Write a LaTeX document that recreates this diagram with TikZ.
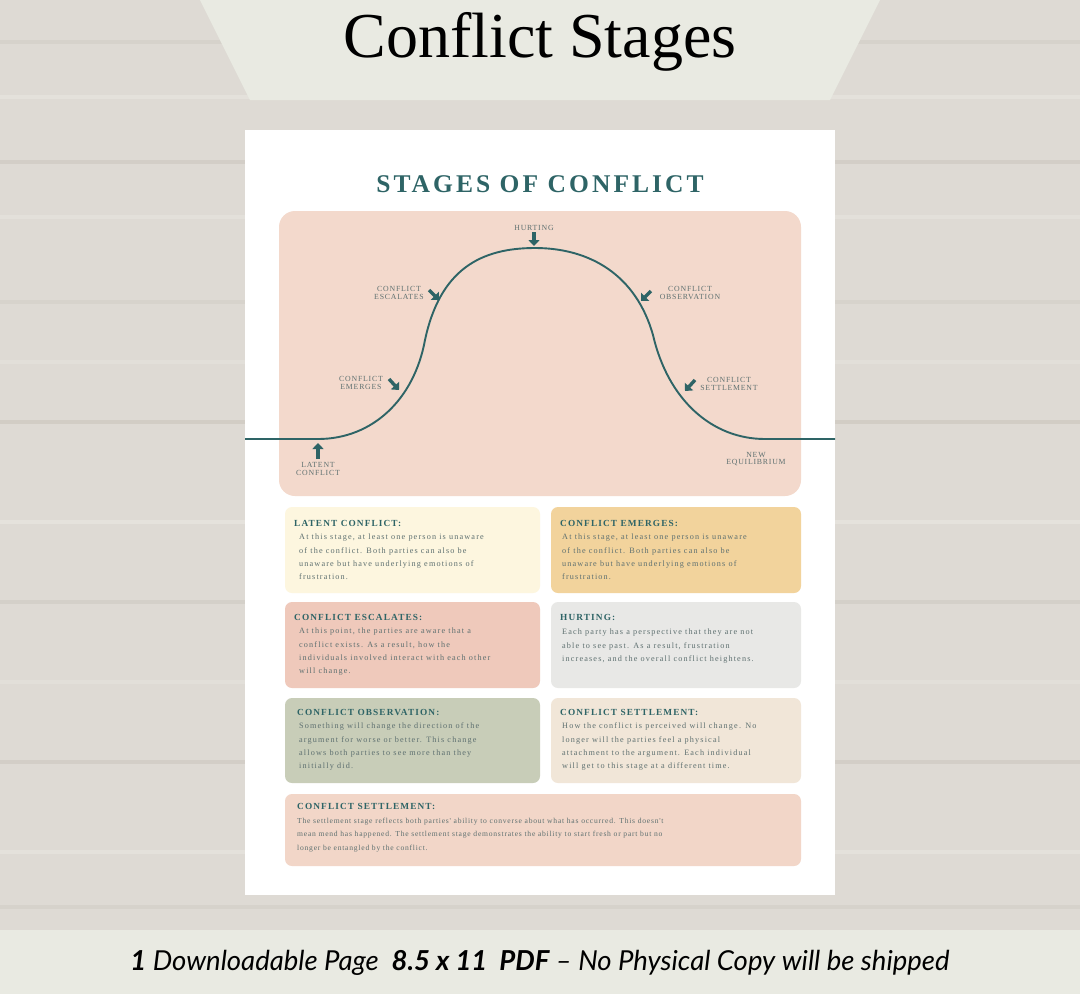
\documentclass[tikz,border=0pt]{standalone}
\usepackage{fontspec}
\setmainfont{Liberation Serif}
\newfontfamily\bodyf[LetterSpace=14]{Liberation Serif}
\newfontfamily\labf[LetterSpace=10]{Liberation Serif}
\newfontfamily\headf[LetterSpace=12]{Liberation Serif}
\newfontfamily\titlef[LetterSpace=12]{Liberation Serif}
\newfontfamily\footf{Lato}
\usetikzlibrary{arrows.meta}
\definecolor{teal}{HTML}{2E6466}
\definecolor{lab}{HTML}{5E7070}
\definecolor{wood}{HTML}{DEDAD4}
\definecolor{band}{HTML}{E9EAE2}
\begin{document}
\begin{tikzpicture}[x=1pt,y=-1pt,
 lbl/.style={font=\labf\fontsize{7.8}{7.6}\selectfont,text=lab,align=center,inner sep=0},
 arr/.style={-{Triangle[length=6pt,width=11pt]},line width=3.4pt,teal},
 box/.style={rounded corners=7pt},
 bhead/.style={font=\headf\bfseries\fontsize{9.3}{10}\selectfont,text=teal,anchor=west,inner sep=0},
 btext/.style={font=\bodyf\fontsize{8.2}{13.3}\selectfont,text=lab,anchor=north west,align=left,inner sep=0}]
\useasboundingbox (0,0) rectangle (1080,994);
\fill[wood] (0,0) rectangle (1080,994);
\foreach \y/\c in {40/D6D2CB,95/E4E1DB,160/D3CEC7,215/E3E0DA,300/D7D3CC,360/E2DFD9,420/D2CDC5,520/E5E2DC,600/D4D0C9,680/E2DFD9,760/D3CEC7,850/E4E1DB,905/D6D2CB}
  {\definecolor{tmp}{HTML}{\c}\fill[tmp] (0,\y) rectangle (1080,\y+4);}
\fill[band] (200,0) -- (880,0) -- (830,100) -- (250,100) -- cycle;
\node[font=\fontsize{64}{64}\selectfont] (title) at (540,42) {Conflict Stages};
\fill[band] (0,930) rectangle (1080,994);
\node[font=\footf\itshape\fontsize{27.5}{27.5}\selectfont] (foot) at (540,963) {\textbf{1} Downloadable Page \ \textbf{8.5 x 11 \ PDF} – No Physical Copy will be shipped};
\fill[white] (245,130) rectangle (835,895);
\node[font=\titlef\bfseries\fontsize{25.5}{25.5}\selectfont,text=teal] (st) at (540,184) {STAGES OF CONFLICT};
\fill[rounded corners=16pt,fill={rgb,255:red,243;green,217;blue,204}] (279,211) rectangle (801,496);
\draw[teal,line width=1.9pt] (245,439) -- (318,439) .. controls (372,439) and (414,400) .. (425,340)
  .. controls (440,270) and (480,248) .. (535,248) .. controls (590,248) and (636,275) .. (653,335)
  .. controls (668,400) and (712,439) .. (765,439) -- (835,439);
\coordinate (a1) at (318,459); \coordinate (a1e) at (318,443);
\draw[arr] (a1) -- (a1e);
\coordinate (a2) at (534,232); \coordinate (a2e) at (534,246);
\draw[arr] (a2) -- (a2e);
\coordinate (a3) at (429,290); \coordinate (a3e) at (439,300);
\draw[arr] (a3) -- (a3e);
\coordinate (a4) at (389,379); \coordinate (a4e) at (399,390);
\draw[arr] (a4) -- (a4e);
\coordinate (a5) at (651,291); \coordinate (a5e) at (641,301);
\draw[arr] (a5) -- (a5e);
\coordinate (a6) at (695,380); \coordinate (a6e) at (685,391);
\draw[arr] (a6) -- (a6e);
\node[lbl] (l1) at (318,469) {LATENT\\CONFLICT};
\node[lbl] (l2) at (534,228) {HURTING};
\node[lbl] (l3) at (399,293) {CONFLICT\\ESCALATES};
\node[lbl] (l4) at (361,383) {CONFLICT\\EMERGES};
\node[lbl] (l5) at (690,293) {CONFLICT\\OBSERVATION};
\node[lbl] (l6) at (729,384) {CONFLICT\\SETTLEMENT};
\node[lbl] (l7) at (756,459) {NEW\\EQUILIBRIUM};
\fill[box,fill={rgb,255:red,253;green,246;blue,223}] (285,507) rectangle (540,593);
\fill[box,fill={rgb,255:red,242;green,211;blue,156}] (551,507) rectangle (801,593);
\fill[box,fill={rgb,255:red,239;green,201;blue,187}] (285,602) rectangle (540,688);
\fill[box,fill={rgb,255:red,232;green,232;blue,230}] (551,602) rectangle (801,688);
\fill[box,fill={rgb,255:red,200;green,205;blue,184}] (285,698) rectangle (540,783);
\fill[box,fill={rgb,255:red,241;green,230;blue,216}] (551,698) rectangle (801,783);
\fill[box,fill={rgb,255:red,242;green,214;blue,200}] (285,794) rectangle (801,866);
\node[bhead] (h1) at (294,523) {LATENT CONFLICT:};
\node[btext] (t1) at (299,534) {At this stage, at least one person is unaware\\of the conflict. Both parties can also be\\unaware but have underlying emotions of\\frustration.};
\node[bhead] (h2) at (560,523) {CONFLICT EMERGES:};
\node[btext] (t2) at (562,534) {At this stage, at least one person is unaware\\of the conflict. Both parties can also be\\unaware but have underlying emotions of\\frustration.};
\node[bhead] (h3) at (294,617) {CONFLICT ESCALATES:};
\node[btext] (t3) at (299,628) {At this point, the parties are aware that a\\conflict exists. As a result, how the\\individuals involved interact with each other\\will change.};
\node[bhead] (h4) at (560,617) {HURTING:};
\node[btext] (t4) at (562,629) {Each party has a perspective that they are not\\able to see past. As a result, frustration\\increases, and the overall conflict heightens.};
\node[bhead] (h5) at (297,712) {CONFLICT OBSERVATION:};
\node[btext] (t5) at (299,723) {Something will change the direction of the\\argument for worse or better. This change\\allows both parties to see more than they\\initially did.};
\node[bhead] (h6) at (560,712) {CONFLICT SETTLEMENT:};
\node[btext] (t6) at (562,723) {How the conflict is perceived will change. No\\longer will the parties feel a physical\\attachment to the argument. Each individual\\will get to this stage at a different time.};
\node[bhead] (h7) at (297,806) {CONFLICT SETTLEMENT:};
\node[btext,font=\labf\fontsize{7.6}{13.3}\selectfont] (t7) at (297,818) {The settlement stage reflects both parties' ability to converse about what has occurred. This doesn't\\mean mend has happened. The settlement stage demonstrates the ability to start fresh or part but no\\longer be entangled by the conflict.};
\end{tikzpicture}
\end{document}
